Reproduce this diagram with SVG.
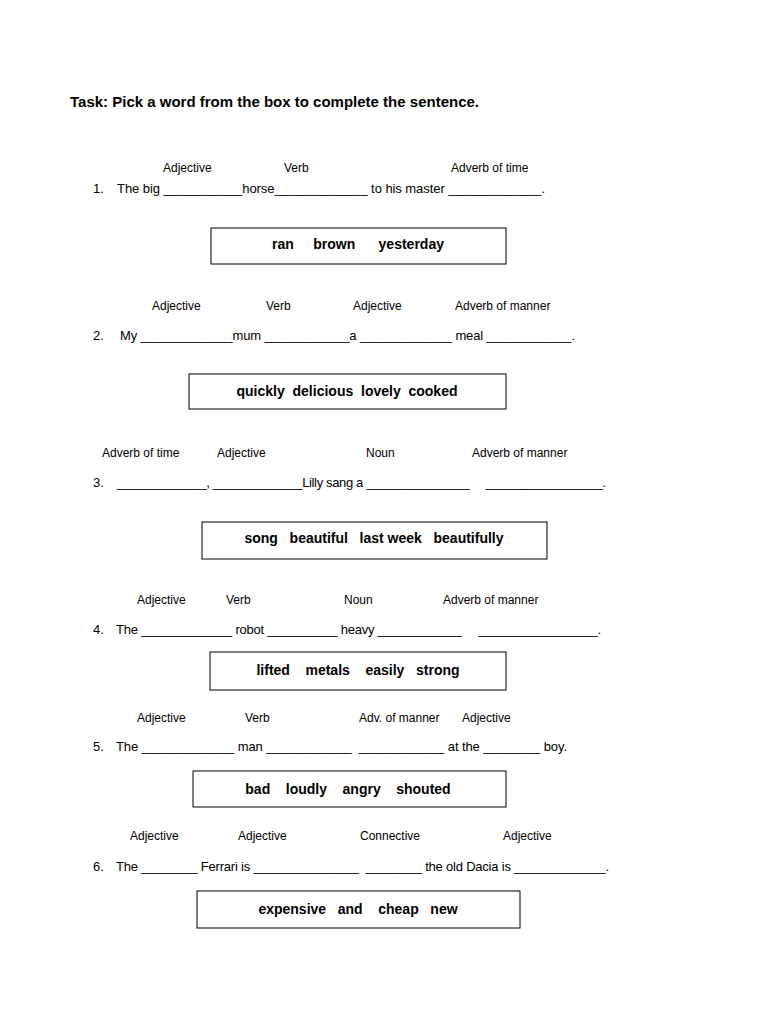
<svg xmlns="http://www.w3.org/2000/svg" width="768" height="1024" viewBox="0 0 768 1024">
<style>
text{font-family:"Liberation Sans",Arial,sans-serif;fill:#000;white-space:pre}
.t{font-size:15px;font-weight:bold}
.l{font-size:12px}
.s{font-size:13px}
.b{font-size:14px;font-weight:bold;text-anchor:middle}
rect{fill:#fff;stroke:#000;stroke-width:1}
</style>
<rect x="0" y="0" width="768" height="1024" style="stroke:none"/>
<text class="t" x="70" y="107">Task: Pick a word from the box to complete the sentence.</text>

<g id="q1">
<text class="l" x="163" y="172">Adjective</text><text class="l" x="284" y="172">Verb</text><text class="l" x="451" y="172">Adverb of time</text>
<text class="s" x="93" y="193">1.</text>
<text class="s" x="117" y="193" textLength="428" lengthAdjust="spacing">The big ___________horse_____________ to his master _____________.</text>
<rect x="211" y="228" width="295" height="36"/>
<text class="b" x="358" y="249">ran     brown      yesterday</text>
</g>

<g id="q2">
<text class="l" x="152" y="310">Adjective</text><text class="l" x="266" y="310">Verb</text><text class="l" x="353" y="310">Adjective</text><text class="l" x="455" y="310">Adverb of manner</text>
<text class="s" x="93" y="340">2.</text>
<text class="s" x="120" y="340" textLength="455" lengthAdjust="spacing">My _____________mum ____________a _____________ meal ____________.</text>
<rect x="189" y="374" width="317" height="35"/>
<text class="b" x="347" y="396">quickly  delicious  lovely  cooked</text>
</g>

<g id="q3">
<text class="l" x="102" y="457">Adverb of time</text><text class="l" x="217" y="457">Adjective</text><text class="l" x="366" y="457">Noun</text><text class="l" x="472" y="457">Adverb of manner</text>
<text class="s" x="93" y="487">3.</text>
<text class="s" x="117" y="487" textLength="489" lengthAdjust="spacing">_____________, _____________Lilly sang a _______________     _________________.</text>
<rect x="202" y="522" width="345" height="37"/>
<text class="b" x="374" y="543">song   beautiful   last week   beautifully</text>
</g>

<g id="q4">
<text class="l" x="137" y="604">Adjective</text><text class="l" x="226" y="604">Verb</text><text class="l" x="344" y="604">Noun</text><text class="l" x="443" y="604">Adverb of manner</text>
<text class="s" x="93" y="634">4.</text>
<text class="s" x="116" y="634" textLength="485" lengthAdjust="spacing">The _____________ robot __________ heavy ____________     _________________.</text>
<rect x="210" y="652" width="296" height="38"/>
<text class="b" x="358" y="675">lifted    metals    easily   strong</text>
</g>

<g id="q5">
<text class="l" x="137" y="722">Adjective</text><text class="l" x="245" y="722">Verb</text><text class="l" x="359" y="722">Adv. of manner</text><text class="l" x="462" y="722">Adjective</text>
<text class="s" x="93" y="751">5.</text>
<text class="s" x="116" y="751" textLength="451" lengthAdjust="spacing">The _____________ man ____________  ____________ at the ________ boy.</text>
<rect x="193" y="771" width="313" height="36"/>
<text class="b" x="348" y="794">bad    loudly    angry    shouted</text>
</g>

<g id="q6">
<text class="l" x="130" y="840">Adjective</text><text class="l" x="238" y="840">Adjective</text><text class="l" x="360" y="840">Connective</text><text class="l" x="503" y="840">Adjective</text>
<text class="s" x="93" y="871">6.</text>
<text class="s" x="116" y="871" textLength="493" lengthAdjust="spacing">The ________ Ferrari is _______________  ________ the old Dacia is _____________.</text>
<rect x="197" y="891" width="323" height="37"/>
<text class="b" x="358" y="914">expensive   and    cheap   new</text>
</g>
</svg>
